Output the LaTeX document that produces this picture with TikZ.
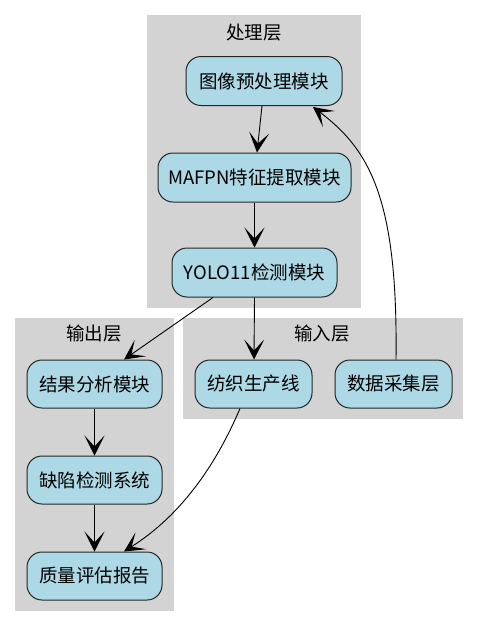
\documentclass[tikz,border=0pt]{standalone}
\usepackage{fontspec}
\setmainfont{Noto Sans CJK SC}
\usetikzlibrary{arrows.meta}
\definecolor{nodefill}{HTML}{ADD8E6}
\definecolor{clusterfill}{HTML}{D3D3D3}
\tikzset{
  box/.style={draw=black!85, line width=1pt, fill=nodefill, rounded corners=15pt,
    minimum height=48pt, inner sep=0pt, font=\fontsize{18.5}{20}\selectfont},
  cluster/.style={fill=clusterfill, draw=none},
  clabel/.style={font=\fontsize{18.5}{20}\selectfont, inner sep=0pt},
  link/.style={line width=0.9pt, -{Stealth[length=20pt,width=20pt,inset=11pt]}}
}
\begin{document}
\begin{tikzpicture}[x=1pt,y=1pt]
\useasboundingbox (0,0) rectangle (479,-627);
% clusters
\fill[cluster] (147,-15) rectangle (361,-308);
\fill[cluster] (15,-318) rectangle (174,-611);
\fill[cluster] (183,-318) rectangle (463,-419);
\node[clabel] (lp) at (254,-33) {处理层};
\node[clabel] (lo) at (94,-334) {输出层};
\node[clabel] (li) at (322,-334) {输入层};
% nodes
\node[box, minimum width=156pt, minimum height=49pt] (pre) at (264,-81) {图像预处理模块};
\node[box, minimum width=193pt, minimum height=49pt] (mafpn) at (254.5,-177.5) {MAFPN特征提取模块};
\node[box, minimum width=165pt, minimum height=49pt] (yolo) at (254.5,-272.5) {YOLO11检测模块};
\node[box, minimum width=135pt] (res) at (94.5,-384) {结果分析模块};
\node[box, minimum width=135pt] (defect) at (94.5,-480) {缺陷检测系统};
\node[box, minimum width=135pt] (qual) at (94.5,-576) {质量评估报告};
\node[box, minimum width=117pt] (textile) at (253.5,-384) {纺织生产线};
\node[box, minimum width=117pt] (data) at (393.5,-384) {数据采集层};
% edges
\draw[link] ([xshift=-2pt]pre.south) -- ([xshift=2.5pt]mafpn.north);
\draw[link] (mafpn.south) -- (yolo.north);
\draw[link] ([xshift=-41.5pt]yolo.south) -- ([xshift=29.5pt]res.north);
\draw[link] (yolo.south) -- ([xshift=0.5pt]textile.north);
\draw[link] (res.south) -- (defect.north);
\draw[link] (defect.south) -- (qual.north);
\draw[link] ([xshift=2.5pt]data.north) .. controls +(2,160) and +(57,-43) .. ([xshift=49pt,yshift=-1pt]pre.south);
\draw[link] ([xshift=-13.5pt]textile.south) .. controls +(-18,-42) and +(66,42) .. ([xshift=29.5pt]qual.north);
\end{tikzpicture}
\end{document}
